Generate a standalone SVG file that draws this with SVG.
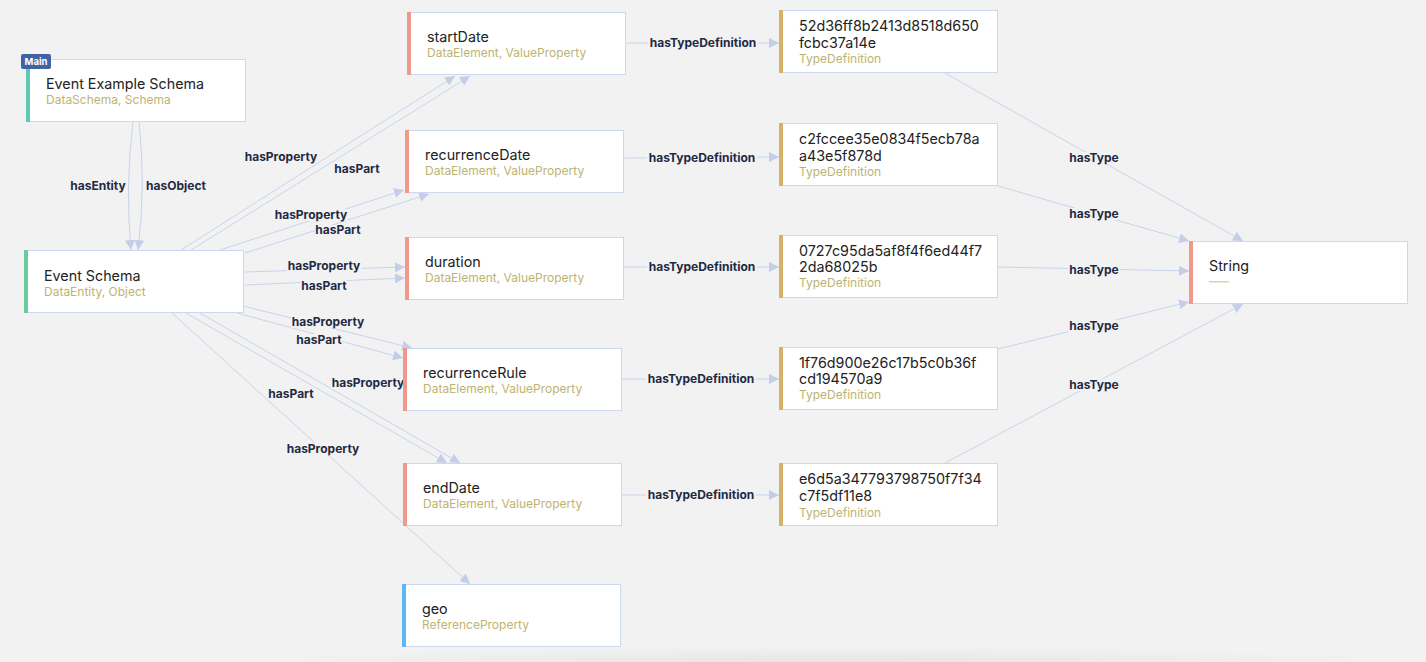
<svg xmlns="http://www.w3.org/2000/svg" width="1426" height="662" viewBox="0 0 1426 662">
<defs>
<marker id="arr" viewBox="0 0 10 10" refX="10" refY="5" markerWidth="10" markerHeight="10" markerUnits="userSpaceOnUse" orient="auto">
<path d="M0,0 L10,5 L0,10 z" fill="#c3cfe8"/>
</marker>
<radialGradient id="shadow" cx="0.5" cy="0.5" r="0.5">
<stop offset="0" stop-color="#000" stop-opacity="0.07"/>
<stop offset="1" stop-color="#000" stop-opacity="0"/>
</radialGradient>
<style>
.node rect.box{fill:#fff;stroke:#cdd7f2;stroke-width:1}
.t{font-family:Inter,"Liberation Sans",sans-serif;font-size:14.3px;fill:#222}
.s{font-family:Inter,"Liberation Sans",sans-serif;font-size:12px;fill:#bdb472}
.e path{fill:none;stroke:#c8d3ec;stroke-width:1;marker-end:url(#arr)}
.lbl text{font-family:Inter,"Liberation Sans",sans-serif;font-size:12px;font-weight:bold;fill:#1f2a44;text-anchor:middle}
.lbl rect{fill:#f2f2f2}
.teal{fill:#5cc9b2}.green{fill:#6cca9b}.sal{fill:#f0998a}.gold{fill:#d7b06a}.blue{fill:#5bb8f0}
</style>
</defs>
<rect width="1426" height="662" fill="#f2f2f2"/>
<ellipse cx="830" cy="668" rx="620" ry="22" fill="url(#shadow)"/>

<g id="connectors">
<g class="e">
<path d="M133,122 Q125,186 131,250"/>
<path d="M139,122 Q146,186 138,250"/>
<path d="M181,250 L455,76"/>
<path d="M191,250 L470,76"/>
<path d="M220,250 L404,190"/>
<path d="M245,253 L429,194"/>
<path d="M245,272 L405,267"/>
<path d="M245,285 L405,278"/>
<path d="M243,306 L412,348"/>
<path d="M237,313 L403,358"/>
<path d="M200,313 L460,463"/>
<path d="M186,313 L447,463"/>
<path d="M172,313 L470,584"/>
<path d="M626,43 L779,43"/>
<path d="M624,158 L779,157"/>
<path d="M624,267 L779,267"/>
<path d="M622,379 L779,379"/>
<path d="M622,495 L779,495"/>
<path d="M945,73 L1243,241"/>
<path d="M998,186 L1189,241"/>
<path d="M998,267 L1189,271"/>
<path d="M998,349 L1189,302"/>
<path d="M945,463 L1243,304"/>
</g>
<g class="lbl">
<rect x="68" y="180" width="60" height="12"/><text x="98" y="190">hasEntity</text>
<rect x="144" y="180" width="64" height="12"/><text x="176" y="190">hasObject</text>
<rect x="244" y="151" width="74" height="12"/><text x="281" y="161">hasProperty</text>
<rect x="334" y="163" width="46" height="12"/><text x="357" y="173">hasPart</text>
<rect x="274" y="209" width="74" height="12"/><text x="311" y="219">hasProperty</text>
<rect x="315" y="225" width="46" height="11"/><text x="338" y="234">hasPart</text>
<rect x="287" y="260" width="74" height="12"/><text x="324" y="270">hasProperty</text>
<rect x="301" y="280" width="46" height="12"/><text x="324" y="290">hasPart</text>
<rect x="291" y="316" width="74" height="12"/><text x="328" y="326">hasProperty</text>
<rect x="296" y="334" width="46" height="12"/><text x="319" y="344">hasPart</text>
<rect x="331" y="377" width="74" height="12"/><text x="368" y="387">hasProperty</text>
<rect x="268" y="388" width="46" height="12"/><text x="291" y="398">hasPart</text>
<rect x="286" y="443" width="74" height="12"/><text x="323" y="453">hasProperty</text>
<rect x="648" y="37" width="110" height="12"/><text x="703" y="47">hasTypeDefinition</text>
<rect x="647" y="152" width="110" height="12"/><text x="702" y="162">hasTypeDefinition</text>
<rect x="647" y="261" width="110" height="12"/><text x="702" y="271">hasTypeDefinition</text>
<rect x="646" y="373" width="110" height="12"/><text x="701" y="383">hasTypeDefinition</text>
<rect x="646" y="489" width="110" height="12"/><text x="701" y="499">hasTypeDefinition</text>
<rect x="1068" y="152" width="52" height="12"/><text x="1094" y="162">hasType</text>
<rect x="1068" y="208" width="52" height="12"/><text x="1094" y="218">hasType</text>
<rect x="1068" y="264" width="52" height="12"/><text x="1094" y="274">hasType</text>
<rect x="1068" y="320" width="52" height="12"/><text x="1094" y="330">hasType</text>
<rect x="1068" y="379" width="52" height="12"/><text x="1094" y="389">hasType</text>
</g>
</g>

<g id="n-event-example-schema" class="node">
<rect class="box" x="26.5" y="59.5" width="219" height="62"/>
<rect class="teal" x="26" y="59" width="4" height="63"/>
<text class="t" x="46" y="89">Event Example Schema</text>
<text class="s" x="46" y="104">DataSchema, Schema</text>
<rect x="21" y="54" width="30" height="15" rx="2" fill="#4262a6"/>
<text x="36" y="65" font-family="Inter,'Liberation Sans',sans-serif" font-size="9.5" font-weight="bold" fill="#fff" text-anchor="middle">Main</text>
</g>
<g id="n-event-schema" class="node">
<rect class="box" x="24.5" y="250.5" width="219" height="62"/>
<rect class="green" x="24" y="250" width="4" height="63"/>
<text class="t" x="44" y="281">Event Schema</text>
<text class="s" x="44" y="296">DataEntity, Object</text>
</g>
<g id="n-startDate" class="node">
<rect class="box" x="407.5" y="12.5" width="218" height="62"/>
<rect class="sal" x="407" y="12" width="4" height="63"/>
<text class="t" x="427" y="42">startDate</text>
<text class="s" x="427" y="57">DataElement, ValueProperty</text>
</g>
<g id="n-recurrenceDate" class="node">
<rect class="box" x="405.5" y="130.5" width="218" height="62"/>
<rect class="sal" x="405" y="130" width="4" height="63"/>
<text class="t" x="425" y="160">recurrenceDate</text>
<text class="s" x="425" y="175">DataElement, ValueProperty</text>
</g>
<g id="n-duration" class="node">
<rect class="box" x="405.5" y="237.5" width="218" height="62"/>
<rect class="sal" x="405" y="237" width="4" height="63"/>
<text class="t" x="425" y="267">duration</text>
<text class="s" x="425" y="282">DataElement, ValueProperty</text>
</g>
<g id="n-recurrenceRule" class="node">
<rect class="box" x="403.5" y="348.5" width="218" height="62"/>
<rect class="sal" x="403" y="348" width="4" height="63"/>
<text class="t" x="423" y="378">recurrenceRule</text>
<text class="s" x="423" y="393">DataElement, ValueProperty</text>
</g>
<g id="n-endDate" class="node">
<rect class="box" x="403.5" y="463.5" width="218" height="62"/>
<rect class="sal" x="403" y="463" width="4" height="63"/>
<text class="t" x="423" y="493">endDate</text>
<text class="s" x="423" y="508">DataElement, ValueProperty</text>
</g>
<g id="n-geo" class="node">
<rect class="box" x="402.5" y="584.5" width="218" height="62"/>
<rect class="blue" x="402" y="584" width="4" height="63"/>
<text class="t" x="422" y="614">geo</text>
<text class="s" x="422" y="629">ReferenceProperty</text>
</g>
<g id="n-td1" class="node">
<rect class="box" x="779.5" y="10.5" width="218" height="62"/>
<rect class="gold" x="779" y="10" width="4" height="63"/>
<text class="t" x="799" y="31">52d36ff8b2413d8518d650</text>
<text class="t" x="799" y="48">fcbc37a14e</text>
<text class="s" x="799" y="63">TypeDefinition</text>
</g>
<g id="n-td2" class="node">
<rect class="box" x="779.5" y="123.5" width="218" height="62"/>
<rect class="gold" x="779" y="123" width="4" height="63"/>
<text class="t" x="799" y="144">c2fccee35e0834f5ecb78a</text>
<text class="t" x="799" y="161">a43e5f878d</text>
<text class="s" x="799" y="176">TypeDefinition</text>
</g>
<g id="n-td3" class="node">
<rect class="box" x="779.5" y="235.5" width="218" height="62"/>
<rect class="gold" x="779" y="235" width="4" height="63"/>
<text class="t" x="799" y="256">0727c95da5af8f4f6ed44f7</text>
<text class="t" x="799" y="272">2da68025b</text>
<text class="s" x="799" y="287">TypeDefinition</text>
</g>
<g id="n-td4" class="node">
<rect class="box" x="779.5" y="347.5" width="218" height="62"/>
<rect class="gold" x="779" y="347" width="4" height="63"/>
<text class="t" x="799" y="368">1f76d900e26c17b5c0b36f</text>
<text class="t" x="799" y="384">cd194570a9</text>
<text class="s" x="799" y="399">TypeDefinition</text>
</g>
<g id="n-td5" class="node">
<rect class="box" x="779.5" y="463.5" width="218" height="62"/>
<rect class="gold" x="779" y="463" width="4" height="63"/>
<text class="t" x="799" y="484">e6d5a347793798750f7f34</text>
<text class="t" x="799" y="501">c7f5df11e8</text>
<text class="s" x="799" y="517">TypeDefinition</text>
</g>
<g id="n-string" class="node">
<rect class="box" x="1189.5" y="241.5" width="218" height="62"/>
<rect class="sal" x="1189" y="241" width="4" height="63"/>
<text class="t" x="1209" y="271">String</text>
<rect x="1209" y="281" width="20" height="1.5" fill="#d9d3a8"/>
</g>
</svg>
